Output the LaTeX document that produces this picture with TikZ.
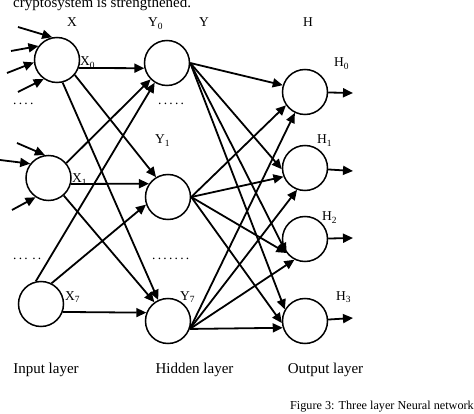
\documentclass[tikz,border=0pt]{standalone}
\usepackage{fontspec}
\setmainfont{Liberation Serif}
\usetikzlibrary{arrows.meta}
\begin{document}
\begin{tikzpicture}[x=1pt, y=-1pt,
                    unit_node/.style={circle, draw=black, line width=1.5pt, minimum size=45pt, inner sep=0pt},
                    link/.style={line width=1.8pt, -{Triangle[length=10pt,width=9pt]}},
                    tag/.style={inner sep=0pt, anchor=base west, font=\fontsize{13.5}{16}\selectfont},
                    layer_text/.style={inner sep=0pt, anchor=base, font=\fontsize{15}{18}\selectfont}
                ]
                \useasboundingbox (0,0) rectangle (474,414);
                % units
                \node[unit_node] (X0) at (57,60) {};
                \node[unit_node] (X1) at (48.5,178) {};
                \node[unit_node] (X7) at (41,304) {};
                \node[unit_node] (Y0) at (167,63) {};
                \node[unit_node] (Y1) at (168,197) {};
                \node[unit_node] (Y7) at (168,321) {};
                \node[unit_node] (H0) at (305,92) {};
                \node[unit_node] (H1) at (305,168) {};
                \node[unit_node] (H2) at (305,239) {};
                \node[unit_node] (H3) at (305,321) {};
                % free ends
                \coordinate (in_a) at (18,27);
                \coordinate (in_b) at (11,51);
                \coordinate (in_c) at (7,73);
                \coordinate (in_d) at (18,92);
                \coordinate (in_e) at (17,143);
                \coordinate (in_f) at (0,160);
                \coordinate (in_g) at (12,210);
                \coordinate (out_0) at (353,93);
                \coordinate (out_1) at (353,171);
                \coordinate (out_2) at (353,238);
                \coordinate (out_3) at (353,318);
                % inputs
                \draw[link] (in_a) -- (X0.102);
                \draw[link] (in_b) -- (X0.143);
                \draw[link] (in_c) -- (X0.186);
                \draw[link] (in_d) -- (X0.235);
                \draw[link] (in_e) -- (X1.99);
                \draw[link] (in_f) -- (X1.142);
                \draw[link] (in_g) -- (X1.236);
                % input to hidden
                \draw[link] (X0.-20) -- (Y0.193);
                \draw[link] (X0.-40) -- (Y1.121);
                \draw[link] (X0.-76) -- (Y7.115);
                \draw[link] (X1.40) -- (Y0.225);
                \draw[link] (X1.-15) -- (Y1.145);
                \draw[link] (X1.-49) -- (Y7.126);
                \draw[link] (X7.103) -- (Y0.238);
                \draw[link] (X7.63) -- (Y1.199);
                \draw[link] (X7.-20) -- (Y7.159);
                % hidden to output
                \draw[link] (Y0.east) -- (H0.163);
                \draw[link] (Y0.east) -- (H1.183);
                \draw[link] (Y0.east) -- (H2.217);
                \draw[link] (Y0.east) -- (H3.150);
                \draw[link] (Y1.east) -- (H0.215);
                \draw[link] (Y1.east) -- (H1.202);
                \draw[link] (Y1.east) -- (H2.217);
                \draw[link] (Y1.east) -- (H3.185);
                \draw[link] (Y7.-20) -- (H0.244);
                \draw[link] (Y7.-20) -- (H1.250);
                \draw[link] (Y7.-20) -- (H2.243);
                \draw[link] (Y7.-20) -- (H3.197);
                % outputs
                \draw[link] (H0) -- (out_0);
                \draw[link] (H1) -- (out_1);
                \draw[link] (H2) -- (out_2);
                \draw[link] (H3) -- (out_3);
                % labels
                \node[layer_text, anchor=base west] (top_text) at (13,8) {cryptosystem is strengthened.};
                \node[tag] (lbl_X) at (67,27) {X};
                \node[tag] (lbl_Y0) at (148,27) {Y\textsubscript{0}};
                \node[tag] (lbl_Y) at (199,27) {Y};
                \node[tag] (lbl_H) at (303,27) {H};
                \node[tag] (lbl_X0) at (80,66) {X\textsubscript{0}};
                \node[tag] (lbl_X1) at (72,183) {X\textsubscript{1}};
                \node[tag] (lbl_X7) at (65,300) {X\textsubscript{7}};
                \node[tag] (lbl_Y1) at (155,144) {Y\textsubscript{1}};
                \node[tag] (lbl_Y7) at (180,300) {Y\textsubscript{7}};
                \node[tag] (lbl_H0) at (334,67) {H\textsubscript{0}};
                \node[tag] (lbl_H1) at (317,144) {H\textsubscript{1}};
                \node[tag] (lbl_H2) at (322,221) {H\textsubscript{2}};
                \node[tag] (lbl_H3) at (336,300) {H\textsubscript{3}};
                \node[tag] (dots_x_top) at (13,105) {.\,.\,.\,.};
                \node[tag] (dots_y_top) at (158,105) {.\,.\,.\,.\,.};
                \node[tag] (dots_x_bot) at (13,260) {.\,.\,.\,\,.\,.};
                \node[tag] (dots_y_bot) at (152,260) {.\,.\,.\,.\,.\,.\,.};
                \node[layer_text] (input_text) at (46,373) {Input layer};
                \node[layer_text] (hidden_text) at (194.5,373) {Hidden layer};
                \node[layer_text] (output_text) at (325.5,373) {Output layer};
                \node[inner sep=0pt, anchor=base east, font=\fontsize{12.2}{14}\selectfont] (caption) at (474,409) {Figure 3: Three layer Neural network};
                \end{tikzpicture}
\end{document}
